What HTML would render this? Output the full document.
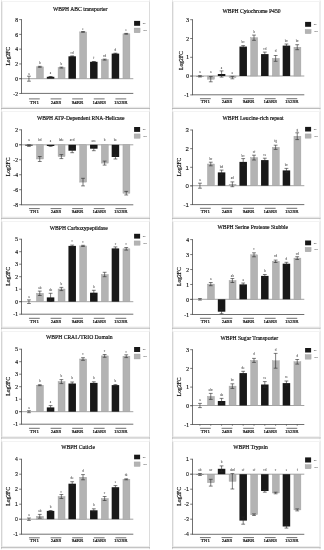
<!DOCTYPE html>
<html lang="en">
<head>
<meta charset="utf-8">
<title>WBPH gene expression Log2FC charts</title>
<style>
html,body{margin:0;padding:0;background:#fff;}
body{width:324px;height:550px;overflow:hidden;}
svg{display:block;filter:blur(0.3px);}
svg text{font-family:"Liberation Serif", serif;}
svg text.m{stroke:#1a1a1a;stroke-width:0.2px;}
svg text.s{font-family:"Liberation Sans", sans-serif;stroke-width:0.1px;}
</style>
</head>
<body>
<svg width="324" height="550" viewBox="0 0 324 550">
<defs>
<pattern id="g" width="4" height="1" patternUnits="userSpaceOnUse">
<rect width="4" height="1" fill="#b8b8b8"/>
<rect y="0.6" width="4" height="0.4" fill="#acacac"/>
</pattern>
</defs>
<rect width="324" height="550" fill="#fff"/>
<g>
<rect x="1.5" y="1.5" width="148" height="106.8" fill="#fff" stroke="none"/>
<path d="M1.5 109.8V0.5" stroke="#d4d4d4" stroke-width="1" fill="none"/>
<path d="M2.5 108.3V1.5" stroke="#f0f0f0" stroke-width="1" fill="none"/>
<path d="M149.5 109.8V0.5" stroke="#dcdcdc" stroke-width="1" fill="none"/>
<path d="M1.5 1.5H149.5" stroke="#f3f3f3" stroke-width="1" fill="none"/>
<path d="M1 108.3H150" stroke="#adadad" stroke-width="1" fill="none"/>
<path d="M1.5 107.3H149.5" stroke="#e8e8e8" stroke-width="1" fill="none"/>
<text class="m" x="53" y="11.1" font-size="5.6" fill="#111">WBPH ABC transporter</text>
<text class="m" transform="translate(9.6 56.25) rotate(-90)" font-size="5.6" text-anchor="middle" fill="#111">Log2FC</text>
<path d="M19.1 78.7H133.3" stroke="#8c8c8c" stroke-width="0.8" fill="none"/>
<path d="M28.95 76.2V81.2M27.05 76.2h3.8M27.05 81.2h3.8" stroke="#262626" stroke-width="0.6" fill="none"/>
<text x="28.95" y="74.5" font-size="3.4" text-anchor="middle" fill="#222">a</text>
<rect x="36.46" y="66.8" width="6.95" height="11.9" fill="url(#g)" stroke="#9c9c9c" stroke-width="0.4"/>
<path d="M39.76 66.3V67.3M37.86 66.3h3.8M37.86 67.3h3.8" stroke="#262626" stroke-width="0.6" fill="none"/>
<text x="39.76" y="64" font-size="3.4" text-anchor="middle" fill="#222">b</text>
<rect x="46.82" y="76.8" width="7.5" height="1.9" fill="#181818"/>
<path d="M50.57 76.5V77.1M48.67 76.5h3.8M48.67 77.1h3.8" stroke="#262626" stroke-width="0.6" fill="none"/>
<text x="50.57" y="74.3" font-size="3.4" text-anchor="middle" fill="#222">a</text>
<rect x="58.08" y="67.6" width="6.95" height="11.1" fill="url(#g)" stroke="#9c9c9c" stroke-width="0.4"/>
<path d="M61.38 67.1V68.1M59.48 67.1h3.8M59.48 68.1h3.8" stroke="#262626" stroke-width="0.6" fill="none"/>
<text x="61.38" y="64.8" font-size="3.4" text-anchor="middle" fill="#222">b</text>
<rect x="68.44" y="56.3" width="7.5" height="22.4" fill="#181818"/>
<path d="M72.19 55.9V56.7M70.29 55.9h3.8M70.29 56.7h3.8" stroke="#262626" stroke-width="0.6" fill="none"/>
<text x="72.19" y="53.8" font-size="3.4" text-anchor="middle" fill="#222">cd</text>
<rect x="79.7" y="31.9" width="6.95" height="46.8" fill="url(#g)" stroke="#9c9c9c" stroke-width="0.4"/>
<path d="M83 31.5V32.3M81.1 31.5h3.8M81.1 32.3h3.8" stroke="#262626" stroke-width="0.6" fill="none"/>
<text x="83" y="29.6" font-size="3.4" text-anchor="middle" fill="#222">e</text>
<rect x="90.06" y="61.8" width="7.5" height="16.9" fill="#181818"/>
<path d="M93.81 61.5V62.1M91.91 61.5h3.8M91.91 62.1h3.8" stroke="#262626" stroke-width="0.6" fill="none"/>
<text x="93.81" y="58.8" font-size="3.4" text-anchor="middle" fill="#222">f</text>
<rect x="101.32" y="59.6" width="6.95" height="19.1" fill="url(#g)" stroke="#9c9c9c" stroke-width="0.4"/>
<path d="M104.62 59.1V60.1M102.72 59.1h3.8M102.72 60.1h3.8" stroke="#262626" stroke-width="0.6" fill="none"/>
<text x="104.62" y="56.9" font-size="3.4" text-anchor="middle" fill="#222">cd</text>
<rect x="111.68" y="53.6" width="7.5" height="25.1" fill="#181818"/>
<path d="M115.43 53.2V54M113.53 53.2h3.8M113.53 54h3.8" stroke="#262626" stroke-width="0.6" fill="none"/>
<text x="115.43" y="50.5" font-size="3.4" text-anchor="middle" fill="#222">d</text>
<rect x="122.94" y="33.8" width="6.95" height="44.9" fill="url(#g)" stroke="#9c9c9c" stroke-width="0.4"/>
<path d="M126.24 33.4V34.2M124.34 33.4h3.8M124.34 34.2h3.8" stroke="#262626" stroke-width="0.6" fill="none"/>
<text x="126.24" y="31.2" font-size="3.4" text-anchor="middle" fill="#222">e</text>
<path d="M21.5 19.2V93.8M21.5 93.4H133.3" stroke="#404040" stroke-width="0.75" fill="none"/>
<path d="M19.2 19.6H21.5" stroke="#404040" stroke-width="0.7" fill="none"/>
<text class="m" x="17.9" y="21.78" font-size="5.5" text-anchor="end" fill="#111">8</text>
<path d="M19.2 34.38H21.5" stroke="#404040" stroke-width="0.7" fill="none"/>
<text class="m" x="17.9" y="36.56" font-size="5.5" text-anchor="end" fill="#111">6</text>
<path d="M19.2 49.16H21.5" stroke="#404040" stroke-width="0.7" fill="none"/>
<text class="m" x="17.9" y="51.34" font-size="5.5" text-anchor="end" fill="#111">4</text>
<path d="M19.2 63.94H21.5" stroke="#404040" stroke-width="0.7" fill="none"/>
<text class="m" x="17.9" y="66.12" font-size="5.5" text-anchor="end" fill="#111">2</text>
<path d="M19.2 78.72H21.5" stroke="#404040" stroke-width="0.7" fill="none"/>
<text class="m" x="17.9" y="80.9" font-size="5.5" text-anchor="end" fill="#111">0</text>
<path d="M19.2 93.5H21.5" stroke="#404040" stroke-width="0.7" fill="none"/>
<text class="m" x="17.9" y="95.68" font-size="5.5" text-anchor="end" fill="#111">-2</text>
<path d="M28.96 98.9h10.8" stroke="#333" stroke-width="0.7" fill="none"/>
<text class="m" x="34.36" y="104" font-size="5" text-anchor="middle" fill="#111">TN1</text>
<path d="M50.58 98.9h10.8" stroke="#333" stroke-width="0.7" fill="none"/>
<text class="m" x="55.98" y="104" font-size="5" text-anchor="middle" fill="#111">24SS</text>
<path d="M72.19 98.9h10.8" stroke="#333" stroke-width="0.7" fill="none"/>
<text class="m" x="77.59" y="104" font-size="5" text-anchor="middle" fill="#111">94RR</text>
<path d="M93.81 98.9h10.8" stroke="#333" stroke-width="0.7" fill="none"/>
<text class="m" x="99.22" y="104" font-size="5" text-anchor="middle" fill="#111">145RS</text>
<path d="M115.44 98.9h10.8" stroke="#333" stroke-width="0.7" fill="none"/>
<text class="m" x="120.84" y="104" font-size="5" text-anchor="middle" fill="#111">152SR</text>
<rect x="134.1" y="20.9" width="6" height="4.9" fill="#181818"/>
<rect x="134.1" y="28" width="6" height="4.8" fill="url(#g)" stroke="#9a9a9a" stroke-width="0.3"/>
<text x="142.7" y="24.25" font-size="2.8" fill="#333">0h</text>
<text x="142.7" y="31.3" font-size="2.8" fill="#333">12h</text>
</g>
<g>
<rect x="172.5" y="1.5" width="147.5" height="106.8" fill="#fff" stroke="none"/>
<path d="M172.5 109.8V0.5" stroke="#d4d4d4" stroke-width="1" fill="none"/>
<path d="M173.5 108.3V1.5" stroke="#f0f0f0" stroke-width="1" fill="none"/>
<path d="M320 109.8V0.5" stroke="#dcdcdc" stroke-width="1" fill="none"/>
<path d="M172.5 1.5H320" stroke="#f3f3f3" stroke-width="1" fill="none"/>
<path d="M172 108.3H320.5" stroke="#adadad" stroke-width="1" fill="none"/>
<path d="M172.5 107.3H320" stroke="#e8e8e8" stroke-width="1" fill="none"/>
<text class="m" x="222.4" y="13.3" font-size="5.6" fill="#111">WBPH Cytochrome P450</text>
<text class="m" transform="translate(182.7 60.6) rotate(-90)" font-size="5.6" text-anchor="middle" fill="#111">Log2FC</text>
<path d="M190.1 76H304.3" stroke="#8c8c8c" stroke-width="0.8" fill="none"/>
<rect x="196.2" y="76" width="7.5" height="0.3" fill="#181818"/>
<path d="M199.95 75.6V77M198.05 75.6h3.8M198.05 77h3.8" stroke="#262626" stroke-width="0.6" fill="none"/>
<text x="199.95" y="72.9" font-size="3.4" text-anchor="middle" fill="#222">a</text>
<rect x="207.46" y="76" width="6.95" height="3.2" fill="url(#g)" stroke="#9c9c9c" stroke-width="0.4"/>
<path d="M210.76 76.6V81.8M208.86 76.6h3.8M208.86 81.8h3.8" stroke="#262626" stroke-width="0.6" fill="none"/>
<text x="210.76" y="73.3" font-size="3.4" text-anchor="middle" fill="#222">a</text>
<rect x="217.82" y="74" width="7.5" height="2" fill="#181818"/>
<path d="M221.57 70.9V77.1M219.67 70.9h3.8M219.67 77.1h3.8" stroke="#262626" stroke-width="0.6" fill="none"/>
<text x="221.57" y="69.3" font-size="3.4" text-anchor="middle" fill="#222">a</text>
<rect x="229.08" y="76" width="6.95" height="1.6" fill="url(#g)" stroke="#9c9c9c" stroke-width="0.4"/>
<path d="M232.38 76.4V78.8M230.48 76.4h3.8M230.48 78.8h3.8" stroke="#262626" stroke-width="0.6" fill="none"/>
<text x="232.38" y="73.7" font-size="3.4" text-anchor="middle" fill="#222">a</text>
<rect x="239.44" y="46.6" width="7.5" height="29.4" fill="#181818"/>
<path d="M243.19 45.6V47.6M241.29 45.6h3.8M241.29 47.6h3.8" stroke="#262626" stroke-width="0.6" fill="none"/>
<text x="243.19" y="42.6" font-size="3.4" text-anchor="middle" fill="#222">bc</text>
<rect x="250.7" y="37.7" width="6.95" height="38.3" fill="url(#g)" stroke="#9c9c9c" stroke-width="0.4"/>
<path d="M254 35.1V40.3M252.1 35.1h3.8M252.1 40.3h3.8" stroke="#262626" stroke-width="0.6" fill="none"/>
<text x="254" y="32.8" font-size="3.4" text-anchor="middle" fill="#222">b</text>
<rect x="261.06" y="54.1" width="7.5" height="21.9" fill="#181818"/>
<path d="M264.81 52.1V56.1M262.91 52.1h3.8M262.91 56.1h3.8" stroke="#262626" stroke-width="0.6" fill="none"/>
<text x="264.81" y="50.2" font-size="3.4" text-anchor="middle" fill="#222">cd</text>
<rect x="272.32" y="58.4" width="6.95" height="17.6" fill="url(#g)" stroke="#9c9c9c" stroke-width="0.4"/>
<path d="M275.62 55.5V61.3M273.72 55.5h3.8M273.72 61.3h3.8" stroke="#262626" stroke-width="0.6" fill="none"/>
<text x="275.62" y="52.1" font-size="3.4" text-anchor="middle" fill="#222">d</text>
<rect x="282.68" y="45.6" width="7.5" height="30.4" fill="#181818"/>
<path d="M286.43 44V47.2M284.53 44h3.8M284.53 47.2h3.8" stroke="#262626" stroke-width="0.6" fill="none"/>
<text x="286.43" y="41.7" font-size="3.4" text-anchor="middle" fill="#222">bc</text>
<rect x="293.94" y="47.2" width="6.95" height="28.8" fill="url(#g)" stroke="#9c9c9c" stroke-width="0.4"/>
<path d="M297.24 44.7V49.7M295.34 44.7h3.8M295.34 49.7h3.8" stroke="#262626" stroke-width="0.6" fill="none"/>
<text x="297.24" y="42" font-size="3.4" text-anchor="middle" fill="#222">bc</text>
<path d="M192.5 19.3V95.2M192.5 94.8H304.3" stroke="#404040" stroke-width="0.75" fill="none"/>
<path d="M190.2 19.7H192.5" stroke="#404040" stroke-width="0.7" fill="none"/>
<text class="m" x="188.9" y="21.88" font-size="5.5" text-anchor="end" fill="#111">3</text>
<path d="M190.2 38.5H192.5" stroke="#404040" stroke-width="0.7" fill="none"/>
<text class="m" x="188.9" y="40.68" font-size="5.5" text-anchor="end" fill="#111">2</text>
<path d="M190.2 57.3H192.5" stroke="#404040" stroke-width="0.7" fill="none"/>
<text class="m" x="188.9" y="59.48" font-size="5.5" text-anchor="end" fill="#111">1</text>
<path d="M190.2 76.1H192.5" stroke="#404040" stroke-width="0.7" fill="none"/>
<text class="m" x="188.9" y="78.28" font-size="5.5" text-anchor="end" fill="#111">0</text>
<path d="M190.2 94.9H192.5" stroke="#404040" stroke-width="0.7" fill="none"/>
<text class="m" x="188.9" y="97.08" font-size="5.5" text-anchor="end" fill="#111">-1</text>
<path d="M199.95 98.7h10.8" stroke="#333" stroke-width="0.7" fill="none"/>
<text class="m" x="205.35" y="103.3" font-size="5" text-anchor="middle" fill="#111">TN1</text>
<path d="M221.57 98.7h10.8" stroke="#333" stroke-width="0.7" fill="none"/>
<text class="m" x="226.97" y="103.3" font-size="5" text-anchor="middle" fill="#111">24SS</text>
<path d="M243.19 98.7h10.8" stroke="#333" stroke-width="0.7" fill="none"/>
<text class="m" x="248.59" y="103.3" font-size="5" text-anchor="middle" fill="#111">94RR</text>
<path d="M264.82 98.7h10.8" stroke="#333" stroke-width="0.7" fill="none"/>
<text class="m" x="270.22" y="103.3" font-size="5" text-anchor="middle" fill="#111">145RS</text>
<path d="M286.44 98.7h10.8" stroke="#333" stroke-width="0.7" fill="none"/>
<text class="m" x="291.84" y="103.3" font-size="5" text-anchor="middle" fill="#111">152SR</text>
<rect x="305.1" y="21.9" width="6" height="4.9" fill="#181818"/>
<rect x="305.1" y="29.4" width="6" height="4.3" fill="url(#g)" stroke="#9a9a9a" stroke-width="0.3"/>
<text x="313.7" y="25.25" font-size="2.8" fill="#333">0h</text>
<text x="313.7" y="32.45" font-size="2.8" fill="#333">12h</text>
</g>
<g>
<rect x="1.5" y="111.5" width="148" height="106.7" fill="#fff" stroke="none"/>
<path d="M1.5 219.7V110.5" stroke="#d4d4d4" stroke-width="1" fill="none"/>
<path d="M2.5 218.2V111.5" stroke="#f0f0f0" stroke-width="1" fill="none"/>
<path d="M149.5 219.7V110.5" stroke="#dcdcdc" stroke-width="1" fill="none"/>
<path d="M1.5 111.5H149.5" stroke="#f3f3f3" stroke-width="1" fill="none"/>
<path d="M1 218.2H150" stroke="#adadad" stroke-width="1" fill="none"/>
<path d="M1.5 217.2H149.5" stroke="#e8e8e8" stroke-width="1" fill="none"/>
<text class="m" x="36.9" y="120" font-size="5.6" fill="#111">WBPH ATP-Dependent RNA-Helicase</text>
<text class="m" transform="translate(9.6 166.95) rotate(-90)" font-size="5.6" text-anchor="middle" fill="#111">Log2FC</text>
<path d="M19.1 144.8H133.3" stroke="#8c8c8c" stroke-width="0.8" fill="none"/>
<rect x="25.2" y="144.8" width="7.5" height="0.8" fill="#181818"/>
<path d="M28.95 144.8V146.4M27.05 144.8h3.8M27.05 146.4h3.8" stroke="#262626" stroke-width="0.6" fill="none"/>
<text x="28.95" y="141.4" font-size="3.4" text-anchor="middle" fill="#222">a</text>
<rect x="36.46" y="144.8" width="6.95" height="14.2" fill="url(#g)" stroke="#9c9c9c" stroke-width="0.4"/>
<path d="M39.76 156.5V161.5M37.86 156.5h3.8M37.86 161.5h3.8" stroke="#262626" stroke-width="0.6" fill="none"/>
<text x="39.76" y="141.4" font-size="3.4" text-anchor="middle" fill="#222">bd</text>
<rect x="46.82" y="144.8" width="7.5" height="1.2" fill="#181818"/>
<path d="M50.57 145.7V146.3M48.67 145.7h3.8M48.67 146.3h3.8" stroke="#262626" stroke-width="0.6" fill="none"/>
<text x="50.57" y="142.2" font-size="3.4" text-anchor="middle" fill="#222">a</text>
<rect x="58.08" y="144.8" width="6.95" height="11.8" fill="url(#g)" stroke="#9c9c9c" stroke-width="0.4"/>
<path d="M61.38 154.6V158.6M59.48 154.6h3.8M59.48 158.6h3.8" stroke="#262626" stroke-width="0.6" fill="none"/>
<text x="61.38" y="141.4" font-size="3.4" text-anchor="middle" fill="#222">bde</text>
<rect x="68.44" y="144.8" width="7.5" height="5.9" fill="#181818"/>
<path d="M72.19 148.7V152.7M70.29 148.7h3.8M70.29 152.7h3.8" stroke="#262626" stroke-width="0.6" fill="none"/>
<text x="72.19" y="141.4" font-size="3.4" text-anchor="middle" fill="#222">acd</text>
<rect x="79.7" y="144.8" width="6.95" height="37.3" fill="url(#g)" stroke="#9c9c9c" stroke-width="0.4"/>
<path d="M83 178.3V185.9M81.1 178.3h3.8M81.1 185.9h3.8" stroke="#262626" stroke-width="0.6" fill="none"/>
<rect x="90.06" y="144.8" width="7.5" height="3.9" fill="#181818"/>
<path d="M93.81 146.7V150.7M91.91 146.7h3.8M91.91 150.7h3.8" stroke="#262626" stroke-width="0.6" fill="none"/>
<text x="93.81" y="141.8" font-size="3.4" text-anchor="middle" fill="#222">ace</text>
<rect x="101.32" y="144.8" width="6.95" height="18.3" fill="url(#g)" stroke="#9c9c9c" stroke-width="0.4"/>
<path d="M104.62 161.1V165.1M102.72 161.1h3.8M102.72 165.1h3.8" stroke="#262626" stroke-width="0.6" fill="none"/>
<text x="104.62" y="141" font-size="3.4" text-anchor="middle" fill="#222">b</text>
<rect x="111.68" y="144.8" width="7.5" height="12.2" fill="#181818"/>
<path d="M115.43 155V159M113.53 155h3.8M113.53 159h3.8" stroke="#262626" stroke-width="0.6" fill="none"/>
<text x="115.43" y="141.4" font-size="3.4" text-anchor="middle" fill="#222">be</text>
<rect x="122.94" y="144.8" width="6.95" height="48.4" fill="url(#g)" stroke="#9c9c9c" stroke-width="0.4"/>
<path d="M126.24 191.4V195M124.34 191.4h3.8M124.34 195h3.8" stroke="#262626" stroke-width="0.6" fill="none"/>
<path d="M21.5 129.4V205.2M21.5 204.8H133.3" stroke="#404040" stroke-width="0.75" fill="none"/>
<path d="M19.2 129.8H21.5" stroke="#404040" stroke-width="0.7" fill="none"/>
<text class="m" x="17.9" y="131.98" font-size="5.5" text-anchor="end" fill="#111">2</text>
<path d="M19.2 144.78H21.5" stroke="#404040" stroke-width="0.7" fill="none"/>
<text class="m" x="17.9" y="146.96" font-size="5.5" text-anchor="end" fill="#111">0</text>
<path d="M19.2 159.76H21.5" stroke="#404040" stroke-width="0.7" fill="none"/>
<text class="m" x="17.9" y="161.94" font-size="5.5" text-anchor="end" fill="#111">-2</text>
<path d="M19.2 174.74H21.5" stroke="#404040" stroke-width="0.7" fill="none"/>
<text class="m" x="17.9" y="176.92" font-size="5.5" text-anchor="end" fill="#111">-4</text>
<path d="M19.2 189.72H21.5" stroke="#404040" stroke-width="0.7" fill="none"/>
<text class="m" x="17.9" y="191.9" font-size="5.5" text-anchor="end" fill="#111">-6</text>
<path d="M19.2 204.7H21.5" stroke="#404040" stroke-width="0.7" fill="none"/>
<text class="m" x="17.9" y="206.88" font-size="5.5" text-anchor="end" fill="#111">-8</text>
<path d="M28.96 208.6h10.8" stroke="#333" stroke-width="0.7" fill="none"/>
<text class="m" x="34.36" y="213.2" font-size="5" text-anchor="middle" fill="#111">TN1</text>
<path d="M50.58 208.6h10.8" stroke="#333" stroke-width="0.7" fill="none"/>
<text class="m" x="55.98" y="213.2" font-size="5" text-anchor="middle" fill="#111">24SS</text>
<path d="M72.19 208.6h10.8" stroke="#333" stroke-width="0.7" fill="none"/>
<text class="m" x="77.59" y="213.2" font-size="5" text-anchor="middle" fill="#111">94RR</text>
<path d="M93.81 208.6h10.8" stroke="#333" stroke-width="0.7" fill="none"/>
<text class="m" x="99.22" y="213.2" font-size="5" text-anchor="middle" fill="#111">145RS</text>
<path d="M115.44 208.6h10.8" stroke="#333" stroke-width="0.7" fill="none"/>
<text class="m" x="120.84" y="213.2" font-size="5" text-anchor="middle" fill="#111">152SR</text>
<rect x="134.1" y="127" width="6" height="4.9" fill="#181818"/>
<rect x="134.1" y="133.9" width="6" height="4.5" fill="url(#g)" stroke="#9a9a9a" stroke-width="0.3"/>
<text x="142.7" y="130.35" font-size="2.8" fill="#333">0h</text>
<text x="142.7" y="137.05" font-size="2.8" fill="#333">12h</text>
</g>
<g>
<rect x="172.5" y="111.5" width="147.5" height="106.7" fill="#fff" stroke="none"/>
<path d="M172.5 219.7V110.5" stroke="#d4d4d4" stroke-width="1" fill="none"/>
<path d="M173.5 218.2V111.5" stroke="#f0f0f0" stroke-width="1" fill="none"/>
<path d="M320 219.7V110.5" stroke="#dcdcdc" stroke-width="1" fill="none"/>
<path d="M172.5 111.5H320" stroke="#f3f3f3" stroke-width="1" fill="none"/>
<path d="M172 218.2H320.5" stroke="#adadad" stroke-width="1" fill="none"/>
<path d="M172.5 217.2H320" stroke="#e8e8e8" stroke-width="1" fill="none"/>
<text class="m" x="222.4" y="119.9" font-size="5.6" fill="#111">WBPH Leucine-rich repeat</text>
<text class="m" transform="translate(180.6 167) rotate(-90)" font-size="5.6" text-anchor="middle" fill="#111">Log2FC</text>
<path d="M190.1 185.7H304.3" stroke="#8c8c8c" stroke-width="0.8" fill="none"/>
<path d="M199.95 183.2V188.2M198.05 183.2h3.8M198.05 188.2h3.8" stroke="#262626" stroke-width="0.6" fill="none"/>
<text x="199.95" y="181.3" font-size="3.4" text-anchor="middle" fill="#222">a</text>
<rect x="207.46" y="164" width="6.95" height="21.7" fill="url(#g)" stroke="#9c9c9c" stroke-width="0.4"/>
<path d="M210.76 162.2V165.8M208.86 162.2h3.8M208.86 165.8h3.8" stroke="#262626" stroke-width="0.6" fill="none"/>
<text x="210.76" y="159.6" font-size="3.4" text-anchor="middle" fill="#222">bc</text>
<rect x="217.82" y="172.4" width="7.5" height="13.3" fill="#181818"/>
<path d="M221.57 170.1V174.7M219.67 170.1h3.8M219.67 174.7h3.8" stroke="#262626" stroke-width="0.6" fill="none"/>
<text x="221.57" y="167.5" font-size="3.4" text-anchor="middle" fill="#222">bd</text>
<rect x="229.08" y="184.3" width="6.95" height="1.4" fill="url(#g)" stroke="#9c9c9c" stroke-width="0.4"/>
<path d="M232.38 181.9V186.7M230.48 181.9h3.8M230.48 186.7h3.8" stroke="#262626" stroke-width="0.6" fill="none"/>
<text x="232.38" y="179.3" font-size="3.4" text-anchor="middle" fill="#222">ad</text>
<rect x="239.44" y="161.9" width="7.5" height="23.8" fill="#181818"/>
<path d="M243.19 158.6V165.2M241.29 158.6h3.8M241.29 165.2h3.8" stroke="#262626" stroke-width="0.6" fill="none"/>
<text x="243.19" y="156.6" font-size="3.4" text-anchor="middle" fill="#222">bc</text>
<rect x="250.7" y="157.6" width="6.95" height="28.1" fill="url(#g)" stroke="#9c9c9c" stroke-width="0.4"/>
<path d="M254 155.2V160M252.1 155.2h3.8M252.1 160h3.8" stroke="#262626" stroke-width="0.6" fill="none"/>
<text x="254" y="152.6" font-size="3.4" text-anchor="middle" fill="#222">cf</text>
<rect x="261.06" y="160.1" width="7.5" height="25.6" fill="#181818"/>
<path d="M264.81 158.2V162M262.91 158.2h3.8M262.91 162h3.8" stroke="#262626" stroke-width="0.6" fill="none"/>
<text x="264.81" y="155.6" font-size="3.4" text-anchor="middle" fill="#222">ce</text>
<rect x="272.32" y="147.3" width="6.95" height="38.4" fill="url(#g)" stroke="#9c9c9c" stroke-width="0.4"/>
<path d="M275.62 145.2V149.4M273.72 145.2h3.8M273.72 149.4h3.8" stroke="#262626" stroke-width="0.6" fill="none"/>
<text x="275.62" y="142.4" font-size="3.4" text-anchor="middle" fill="#222">fg</text>
<rect x="282.68" y="170.4" width="7.5" height="15.3" fill="#181818"/>
<path d="M286.43 168.4V172.4M284.53 168.4h3.8M284.53 172.4h3.8" stroke="#262626" stroke-width="0.6" fill="none"/>
<text x="286.43" y="165.5" font-size="3.4" text-anchor="middle" fill="#222">bc</text>
<rect x="293.94" y="136.2" width="6.95" height="49.5" fill="url(#g)" stroke="#9c9c9c" stroke-width="0.4"/>
<path d="M297.24 132.8V139.6M295.34 132.8h3.8M295.34 139.6h3.8" stroke="#262626" stroke-width="0.6" fill="none"/>
<text x="297.24" y="130.9" font-size="3.4" text-anchor="middle" fill="#222">g</text>
<path d="M192.5 129.6V205M192.5 204.6H304.3" stroke="#404040" stroke-width="0.75" fill="none"/>
<path d="M190.2 130H192.5" stroke="#404040" stroke-width="0.7" fill="none"/>
<text class="m s" x="188.9" y="132.36" font-size="6.0" text-anchor="end" fill="#111">3</text>
<path d="M190.2 148.65H192.5" stroke="#404040" stroke-width="0.7" fill="none"/>
<text class="m s" x="188.9" y="151.01" font-size="6.0" text-anchor="end" fill="#111">2</text>
<path d="M190.2 167.3H192.5" stroke="#404040" stroke-width="0.7" fill="none"/>
<text class="m s" x="188.9" y="169.66" font-size="6.0" text-anchor="end" fill="#111">1</text>
<path d="M190.2 185.95H192.5" stroke="#404040" stroke-width="0.7" fill="none"/>
<text class="m s" x="188.9" y="188.31" font-size="6.0" text-anchor="end" fill="#111">0</text>
<path d="M190.2 204.6H192.5" stroke="#404040" stroke-width="0.7" fill="none"/>
<text class="m s" x="188.9" y="206.96" font-size="6.0" text-anchor="end" fill="#111">-1</text>
<path d="M199.95 208.3h10.8" stroke="#333" stroke-width="0.7" fill="none"/>
<text class="m" x="205.35" y="212.8" font-size="5" text-anchor="middle" fill="#111">TN1</text>
<path d="M221.57 208.3h10.8" stroke="#333" stroke-width="0.7" fill="none"/>
<text class="m" x="226.97" y="212.8" font-size="5" text-anchor="middle" fill="#111">24SS</text>
<path d="M243.19 208.3h10.8" stroke="#333" stroke-width="0.7" fill="none"/>
<text class="m" x="248.59" y="212.8" font-size="5" text-anchor="middle" fill="#111">94RR</text>
<path d="M264.82 208.3h10.8" stroke="#333" stroke-width="0.7" fill="none"/>
<text class="m" x="270.22" y="212.8" font-size="5" text-anchor="middle" fill="#111">145RS</text>
<path d="M286.44 208.3h10.8" stroke="#333" stroke-width="0.7" fill="none"/>
<text class="m" x="291.84" y="212.8" font-size="5" text-anchor="middle" fill="#111">152SR</text>
<rect x="305.1" y="126.9" width="6" height="4.6" fill="#181818"/>
<rect x="305.1" y="133.9" width="6" height="4.3" fill="url(#g)" stroke="#9a9a9a" stroke-width="0.3"/>
<text x="313.7" y="130.1" font-size="2.8" fill="#333">0h</text>
<text x="313.7" y="136.95" font-size="2.8" fill="#333">12h</text>
</g>
<g>
<rect x="1.5" y="221.5" width="148" height="106.6" fill="#fff" stroke="none"/>
<path d="M1.5 329.6V220.5" stroke="#d4d4d4" stroke-width="1" fill="none"/>
<path d="M2.5 328.1V221.5" stroke="#f0f0f0" stroke-width="1" fill="none"/>
<path d="M149.5 329.6V220.5" stroke="#dcdcdc" stroke-width="1" fill="none"/>
<path d="M1.5 221.5H149.5" stroke="#f3f3f3" stroke-width="1" fill="none"/>
<path d="M1 328.1H150" stroke="#adadad" stroke-width="1" fill="none"/>
<path d="M1.5 327.1H149.5" stroke="#e8e8e8" stroke-width="1" fill="none"/>
<text class="m" x="49.8" y="229.8" font-size="5.6" fill="#111">WBPH Carboxypeptidase</text>
<text class="m" transform="translate(9.6 276.4) rotate(-90)" font-size="5.6" text-anchor="middle" fill="#111">Log2FC</text>
<path d="M19.1 301.7H133.3" stroke="#8c8c8c" stroke-width="0.8" fill="none"/>
<path d="M28.95 299.9V303.5M27.05 299.9h3.8M27.05 303.5h3.8" stroke="#262626" stroke-width="0.6" fill="none"/>
<text x="28.95" y="298" font-size="3.4" text-anchor="middle" fill="#222">a</text>
<rect x="36.46" y="293.3" width="6.95" height="8.4" fill="url(#g)" stroke="#9c9c9c" stroke-width="0.4"/>
<path d="M39.76 291.1V295.5M37.86 291.1h3.8M37.86 295.5h3.8" stroke="#262626" stroke-width="0.6" fill="none"/>
<text x="39.76" y="289.2" font-size="3.4" text-anchor="middle" fill="#222">ab</text>
<rect x="46.82" y="297.4" width="7.5" height="4.3" fill="#181818"/>
<path d="M50.57 293.3V301.5M48.67 293.3h3.8M48.67 301.5h3.8" stroke="#262626" stroke-width="0.6" fill="none"/>
<text x="50.57" y="290.8" font-size="3.4" text-anchor="middle" fill="#222">ab</text>
<rect x="58.08" y="289" width="6.95" height="12.7" fill="url(#g)" stroke="#9c9c9c" stroke-width="0.4"/>
<path d="M61.38 287.4V290.6M59.48 287.4h3.8M59.48 290.6h3.8" stroke="#262626" stroke-width="0.6" fill="none"/>
<text x="61.38" y="285" font-size="3.4" text-anchor="middle" fill="#222">b</text>
<rect x="68.44" y="245.9" width="7.5" height="55.8" fill="#181818"/>
<path d="M72.19 245.1V246.7M70.29 245.1h3.8M70.29 246.7h3.8" stroke="#262626" stroke-width="0.6" fill="none"/>
<text x="72.19" y="241.5" font-size="3.4" text-anchor="middle" fill="#222">c</text>
<rect x="79.7" y="245.9" width="6.95" height="55.8" fill="url(#g)" stroke="#9c9c9c" stroke-width="0.4"/>
<path d="M83 245.3V246.5M81.1 245.3h3.8M81.1 246.5h3.8" stroke="#262626" stroke-width="0.6" fill="none"/>
<text x="83" y="242.9" font-size="3.4" text-anchor="middle" fill="#222">c</text>
<rect x="90.06" y="292.7" width="7.5" height="9" fill="#181818"/>
<path d="M93.81 290.3V295.1M91.91 290.3h3.8M91.91 295.1h3.8" stroke="#262626" stroke-width="0.6" fill="none"/>
<text x="93.81" y="288.4" font-size="3.4" text-anchor="middle" fill="#222">b</text>
<rect x="101.32" y="274.5" width="6.95" height="27.2" fill="url(#g)" stroke="#9c9c9c" stroke-width="0.4"/>
<path d="M104.62 272.3V276.7M102.72 272.3h3.8M102.72 276.7h3.8" stroke="#262626" stroke-width="0.6" fill="none"/>
<rect x="111.68" y="248.4" width="7.5" height="53.3" fill="#181818"/>
<path d="M115.43 246.9V249.9M113.53 246.9h3.8M113.53 249.9h3.8" stroke="#262626" stroke-width="0.6" fill="none"/>
<text x="115.43" y="244.5" font-size="3.4" text-anchor="middle" fill="#222">c</text>
<rect x="122.94" y="248.8" width="6.95" height="52.9" fill="url(#g)" stroke="#9c9c9c" stroke-width="0.4"/>
<path d="M126.24 247.5V250.1M124.34 247.5h3.8M124.34 250.1h3.8" stroke="#262626" stroke-width="0.6" fill="none"/>
<text x="126.24" y="244.9" font-size="3.4" text-anchor="middle" fill="#222">c</text>
<path d="M21.5 238.8V314.6M21.5 314.2H133.3" stroke="#404040" stroke-width="0.75" fill="none"/>
<path d="M19.2 239.2H21.5" stroke="#404040" stroke-width="0.7" fill="none"/>
<text class="m" x="17.9" y="241.38" font-size="5.5" text-anchor="end" fill="#111">5</text>
<path d="M19.2 251.7H21.5" stroke="#404040" stroke-width="0.7" fill="none"/>
<text class="m" x="17.9" y="253.88" font-size="5.5" text-anchor="end" fill="#111">4</text>
<path d="M19.2 264.2H21.5" stroke="#404040" stroke-width="0.7" fill="none"/>
<text class="m" x="17.9" y="266.38" font-size="5.5" text-anchor="end" fill="#111">3</text>
<path d="M19.2 276.7H21.5" stroke="#404040" stroke-width="0.7" fill="none"/>
<text class="m" x="17.9" y="278.88" font-size="5.5" text-anchor="end" fill="#111">2</text>
<path d="M19.2 289.2H21.5" stroke="#404040" stroke-width="0.7" fill="none"/>
<text class="m" x="17.9" y="291.38" font-size="5.5" text-anchor="end" fill="#111">1</text>
<path d="M19.2 301.7H21.5" stroke="#404040" stroke-width="0.7" fill="none"/>
<text class="m" x="17.9" y="303.88" font-size="5.5" text-anchor="end" fill="#111">0</text>
<path d="M19.2 314.2H21.5" stroke="#404040" stroke-width="0.7" fill="none"/>
<text class="m" x="17.9" y="316.38" font-size="5.5" text-anchor="end" fill="#111">-1</text>
<path d="M28.96 318.3h10.8" stroke="#333" stroke-width="0.7" fill="none"/>
<text class="m" x="34.36" y="323.2" font-size="5" text-anchor="middle" fill="#111">TN1</text>
<path d="M50.58 318.3h10.8" stroke="#333" stroke-width="0.7" fill="none"/>
<text class="m" x="55.98" y="323.2" font-size="5" text-anchor="middle" fill="#111">24SS</text>
<path d="M72.19 318.3h10.8" stroke="#333" stroke-width="0.7" fill="none"/>
<text class="m" x="77.59" y="323.2" font-size="5" text-anchor="middle" fill="#111">94RR</text>
<path d="M93.81 318.3h10.8" stroke="#333" stroke-width="0.7" fill="none"/>
<text class="m" x="99.22" y="323.2" font-size="5" text-anchor="middle" fill="#111">145RS</text>
<path d="M115.44 318.3h10.8" stroke="#333" stroke-width="0.7" fill="none"/>
<text class="m" x="120.84" y="323.2" font-size="5" text-anchor="middle" fill="#111">152SR</text>
<rect x="134.1" y="233.8" width="6" height="4.8" fill="#181818"/>
<rect x="134.1" y="240.9" width="6" height="4.4" fill="url(#g)" stroke="#9a9a9a" stroke-width="0.3"/>
<text x="142.7" y="237.1" font-size="2.8" fill="#333">0h</text>
<text x="142.7" y="244" font-size="2.8" fill="#333">12h</text>
</g>
<g>
<rect x="172.5" y="221.5" width="147.5" height="106.6" fill="#fff" stroke="none"/>
<path d="M172.5 329.6V220.5" stroke="#d4d4d4" stroke-width="1" fill="none"/>
<path d="M173.5 328.1V221.5" stroke="#f0f0f0" stroke-width="1" fill="none"/>
<path d="M320 329.6V220.5" stroke="#dcdcdc" stroke-width="1" fill="none"/>
<path d="M172.5 221.5H320" stroke="#f3f3f3" stroke-width="1" fill="none"/>
<path d="M172 328.1H320.5" stroke="#adadad" stroke-width="1" fill="none"/>
<path d="M172.5 327.1H320" stroke="#e8e8e8" stroke-width="1" fill="none"/>
<text class="m" x="217.4" y="229.4" font-size="5.6" fill="#111">WBPH Serine Protease Stubble</text>
<text class="m" transform="translate(180.6 276.7) rotate(-90)" font-size="5.6" text-anchor="middle" fill="#111">Log2FC</text>
<path d="M190.1 299.3H304.3" stroke="#8c8c8c" stroke-width="0.8" fill="none"/>
<path d="M199.95 298.5V300.1M198.05 298.5h3.8M198.05 300.1h3.8" stroke="#262626" stroke-width="0.6" fill="none"/>
<rect x="207.46" y="284.1" width="6.95" height="15.2" fill="url(#g)" stroke="#9c9c9c" stroke-width="0.4"/>
<path d="M210.76 282.5V285.7M208.86 282.5h3.8M208.86 285.7h3.8" stroke="#262626" stroke-width="0.6" fill="none"/>
<text x="210.76" y="279.8" font-size="3.4" text-anchor="middle" fill="#222">a</text>
<rect x="217.82" y="299.3" width="7.5" height="12.4" fill="#181818"/>
<path d="M221.57 309.7V313.7M219.67 309.7h3.8M219.67 313.7h3.8" stroke="#262626" stroke-width="0.6" fill="none"/>
<rect x="229.08" y="280.5" width="6.95" height="18.8" fill="url(#g)" stroke="#9c9c9c" stroke-width="0.4"/>
<path d="M232.38 278.5V282.5M230.48 278.5h3.8M230.48 282.5h3.8" stroke="#262626" stroke-width="0.6" fill="none"/>
<text x="232.38" y="276.5" font-size="3.4" text-anchor="middle" fill="#222">ab</text>
<rect x="239.44" y="284.4" width="7.5" height="14.9" fill="#181818"/>
<path d="M243.19 283V285.8M241.29 283h3.8M241.29 285.8h3.8" stroke="#262626" stroke-width="0.6" fill="none"/>
<text x="243.19" y="280.5" font-size="3.4" text-anchor="middle" fill="#222">a</text>
<rect x="250.7" y="254.8" width="6.95" height="44.5" fill="url(#g)" stroke="#9c9c9c" stroke-width="0.4"/>
<path d="M254 252.8V256.8M252.1 252.8h3.8M252.1 256.8h3.8" stroke="#262626" stroke-width="0.6" fill="none"/>
<text x="254" y="250.3" font-size="3.4" text-anchor="middle" fill="#222">c</text>
<rect x="261.06" y="275.9" width="7.5" height="23.4" fill="#181818"/>
<path d="M264.81 274.5V277.3M262.91 274.5h3.8M262.91 277.3h3.8" stroke="#262626" stroke-width="0.6" fill="none"/>
<text x="264.81" y="272.2" font-size="3.4" text-anchor="middle" fill="#222">b</text>
<rect x="272.32" y="261.3" width="6.95" height="38" fill="url(#g)" stroke="#9c9c9c" stroke-width="0.4"/>
<path d="M275.62 260.1V262.5M273.72 260.1h3.8M273.72 262.5h3.8" stroke="#262626" stroke-width="0.6" fill="none"/>
<text x="275.62" y="257.3" font-size="3.4" text-anchor="middle" fill="#222">cd</text>
<rect x="282.68" y="263.7" width="7.5" height="35.6" fill="#181818"/>
<path d="M286.43 262.3V265.1M284.53 262.3h3.8M284.53 265.1h3.8" stroke="#262626" stroke-width="0.6" fill="none"/>
<text x="286.43" y="259.7" font-size="3.4" text-anchor="middle" fill="#222">d</text>
<rect x="293.94" y="258.1" width="6.95" height="41.2" fill="url(#g)" stroke="#9c9c9c" stroke-width="0.4"/>
<path d="M297.24 256.7V259.5M295.34 256.7h3.8M295.34 259.5h3.8" stroke="#262626" stroke-width="0.6" fill="none"/>
<text x="297.24" y="254.8" font-size="3.4" text-anchor="middle" fill="#222">cd</text>
<path d="M192.5 239.2V314.9M192.5 314.5H304.3" stroke="#404040" stroke-width="0.75" fill="none"/>
<path d="M190.2 239.6H192.5" stroke="#404040" stroke-width="0.7" fill="none"/>
<text class="m" x="188.9" y="241.78" font-size="5.5" text-anchor="end" fill="#111">4</text>
<path d="M190.2 254.56H192.5" stroke="#404040" stroke-width="0.7" fill="none"/>
<text class="m" x="188.9" y="256.74" font-size="5.5" text-anchor="end" fill="#111">3</text>
<path d="M190.2 269.52H192.5" stroke="#404040" stroke-width="0.7" fill="none"/>
<text class="m" x="188.9" y="271.7" font-size="5.5" text-anchor="end" fill="#111">2</text>
<path d="M190.2 284.48H192.5" stroke="#404040" stroke-width="0.7" fill="none"/>
<text class="m" x="188.9" y="286.66" font-size="5.5" text-anchor="end" fill="#111">1</text>
<path d="M190.2 299.44H192.5" stroke="#404040" stroke-width="0.7" fill="none"/>
<text class="m" x="188.9" y="301.62" font-size="5.5" text-anchor="end" fill="#111">0</text>
<path d="M190.2 314.4H192.5" stroke="#404040" stroke-width="0.7" fill="none"/>
<text class="m" x="188.9" y="316.58" font-size="5.5" text-anchor="end" fill="#111">-1</text>
<path d="M199.95 318.3h10.8" stroke="#333" stroke-width="0.7" fill="none"/>
<text class="m" x="205.35" y="322.8" font-size="5" text-anchor="middle" fill="#111">TN1</text>
<path d="M221.57 318.3h10.8" stroke="#333" stroke-width="0.7" fill="none"/>
<text class="m" x="226.97" y="322.8" font-size="5" text-anchor="middle" fill="#111">24SS</text>
<path d="M243.19 318.3h10.8" stroke="#333" stroke-width="0.7" fill="none"/>
<text class="m" x="248.59" y="322.8" font-size="5" text-anchor="middle" fill="#111">94RR</text>
<path d="M264.82 318.3h10.8" stroke="#333" stroke-width="0.7" fill="none"/>
<text class="m" x="270.22" y="322.8" font-size="5" text-anchor="middle" fill="#111">145RS</text>
<path d="M286.44 318.3h10.8" stroke="#333" stroke-width="0.7" fill="none"/>
<text class="m" x="291.84" y="322.8" font-size="5" text-anchor="middle" fill="#111">152SR</text>
<rect x="305.1" y="240.5" width="6" height="4.8" fill="#181818"/>
<rect x="305.1" y="247.3" width="6" height="4.5" fill="url(#g)" stroke="#9a9a9a" stroke-width="0.3"/>
<text x="313.7" y="243.8" font-size="2.8" fill="#333">0h</text>
<text x="313.7" y="250.45" font-size="2.8" fill="#333">12h</text>
</g>
<g>
<rect x="1.5" y="331.5" width="148" height="106.4" fill="#fff" stroke="none"/>
<path d="M1.5 439.4V330.5" stroke="#d4d4d4" stroke-width="1" fill="none"/>
<path d="M2.5 437.9V331.5" stroke="#f0f0f0" stroke-width="1" fill="none"/>
<path d="M149.5 439.4V330.5" stroke="#dcdcdc" stroke-width="1" fill="none"/>
<path d="M1.5 331.5H149.5" stroke="#f3f3f3" stroke-width="1" fill="none"/>
<path d="M1 437.9H150" stroke="#adadad" stroke-width="1" fill="none"/>
<path d="M1.5 436.9H149.5" stroke="#e8e8e8" stroke-width="1" fill="none"/>
<text class="m" x="46.1" y="339.4" font-size="5.6" fill="#111">WBPH CRAL/TRIO Domain</text>
<text class="m" transform="translate(9.6 386.4) rotate(-90)" font-size="5.6" text-anchor="middle" fill="#111">Log2FC</text>
<path d="M19.1 411.7H133.3" stroke="#8c8c8c" stroke-width="0.8" fill="none"/>
<path d="M28.95 410.7V412.7M27.05 410.7h3.8M27.05 412.7h3.8" stroke="#262626" stroke-width="0.6" fill="none"/>
<text x="28.95" y="408.8" font-size="3.4" text-anchor="middle" fill="#222">a</text>
<rect x="36.46" y="385.2" width="6.95" height="26.5" fill="url(#g)" stroke="#9c9c9c" stroke-width="0.4"/>
<path d="M39.76 384.7V385.7M37.86 384.7h3.8M37.86 385.7h3.8" stroke="#262626" stroke-width="0.6" fill="none"/>
<text x="39.76" y="382.4" font-size="3.4" text-anchor="middle" fill="#222">b</text>
<rect x="46.82" y="407.4" width="7.5" height="4.3" fill="#181818"/>
<path d="M50.57 405.6V409.2M48.67 405.6h3.8M48.67 409.2h3.8" stroke="#262626" stroke-width="0.6" fill="none"/>
<text x="50.57" y="403.4" font-size="3.4" text-anchor="middle" fill="#222">a</text>
<rect x="58.08" y="381.6" width="6.95" height="30.1" fill="url(#g)" stroke="#9c9c9c" stroke-width="0.4"/>
<path d="M61.38 379.6V383.6M59.48 379.6h3.8M59.48 383.6h3.8" stroke="#262626" stroke-width="0.6" fill="none"/>
<text x="61.38" y="377" font-size="3.4" text-anchor="middle" fill="#222">b</text>
<rect x="68.44" y="383.5" width="7.5" height="28.2" fill="#181818"/>
<path d="M72.19 382V385M70.29 382h3.8M70.29 385h3.8" stroke="#262626" stroke-width="0.6" fill="none"/>
<text x="72.19" y="379.2" font-size="3.4" text-anchor="middle" fill="#222">b</text>
<rect x="79.7" y="359" width="6.95" height="52.7" fill="url(#g)" stroke="#9c9c9c" stroke-width="0.4"/>
<path d="M83 357.7V360.3M81.1 357.7h3.8M81.1 360.3h3.8" stroke="#262626" stroke-width="0.6" fill="none"/>
<text x="83" y="355.2" font-size="3.4" text-anchor="middle" fill="#222">c</text>
<rect x="90.06" y="382.9" width="7.5" height="28.8" fill="#181818"/>
<path d="M93.81 381.8V384M91.91 381.8h3.8M91.91 384h3.8" stroke="#262626" stroke-width="0.6" fill="none"/>
<text x="93.81" y="378.6" font-size="3.4" text-anchor="middle" fill="#222">b</text>
<rect x="101.32" y="355.9" width="6.95" height="55.8" fill="url(#g)" stroke="#9c9c9c" stroke-width="0.4"/>
<path d="M104.62 354.5V357.3M102.72 354.5h3.8M102.72 357.3h3.8" stroke="#262626" stroke-width="0.6" fill="none"/>
<text x="104.62" y="352.3" font-size="3.4" text-anchor="middle" fill="#222">c</text>
<rect x="111.68" y="385.1" width="7.5" height="26.6" fill="#181818"/>
<path d="M115.43 384.6V385.6M113.53 384.6h3.8M113.53 385.6h3.8" stroke="#262626" stroke-width="0.6" fill="none"/>
<text x="115.43" y="381.6" font-size="3.4" text-anchor="middle" fill="#222">b</text>
<rect x="122.94" y="356.2" width="6.95" height="55.5" fill="url(#g)" stroke="#9c9c9c" stroke-width="0.4"/>
<path d="M126.24 354.8V357.6M124.34 354.8h3.8M124.34 357.6h3.8" stroke="#262626" stroke-width="0.6" fill="none"/>
<text x="126.24" y="353" font-size="3.4" text-anchor="middle" fill="#222">c</text>
<path d="M21.5 348.8V424.6M21.5 424.2H133.3" stroke="#404040" stroke-width="0.75" fill="none"/>
<path d="M19.2 349.2H21.5" stroke="#404040" stroke-width="0.7" fill="none"/>
<text class="m" x="17.9" y="351.38" font-size="5.5" text-anchor="end" fill="#111">5</text>
<path d="M19.2 361.7H21.5" stroke="#404040" stroke-width="0.7" fill="none"/>
<text class="m" x="17.9" y="363.88" font-size="5.5" text-anchor="end" fill="#111">4</text>
<path d="M19.2 374.2H21.5" stroke="#404040" stroke-width="0.7" fill="none"/>
<text class="m" x="17.9" y="376.38" font-size="5.5" text-anchor="end" fill="#111">3</text>
<path d="M19.2 386.7H21.5" stroke="#404040" stroke-width="0.7" fill="none"/>
<text class="m" x="17.9" y="388.88" font-size="5.5" text-anchor="end" fill="#111">2</text>
<path d="M19.2 399.2H21.5" stroke="#404040" stroke-width="0.7" fill="none"/>
<text class="m" x="17.9" y="401.38" font-size="5.5" text-anchor="end" fill="#111">1</text>
<path d="M19.2 411.7H21.5" stroke="#404040" stroke-width="0.7" fill="none"/>
<text class="m" x="17.9" y="413.88" font-size="5.5" text-anchor="end" fill="#111">0</text>
<path d="M19.2 424.2H21.5" stroke="#404040" stroke-width="0.7" fill="none"/>
<text class="m" x="17.9" y="426.38" font-size="5.5" text-anchor="end" fill="#111">-1</text>
<path d="M28.96 428.3h10.8" stroke="#333" stroke-width="0.7" fill="none"/>
<text class="m" x="34.36" y="432.8" font-size="5" text-anchor="middle" fill="#111">TN1</text>
<path d="M50.58 428.3h10.8" stroke="#333" stroke-width="0.7" fill="none"/>
<text class="m" x="55.98" y="432.8" font-size="5" text-anchor="middle" fill="#111">24SS</text>
<path d="M72.19 428.3h10.8" stroke="#333" stroke-width="0.7" fill="none"/>
<text class="m" x="77.59" y="432.8" font-size="5" text-anchor="middle" fill="#111">94RR</text>
<path d="M93.81 428.3h10.8" stroke="#333" stroke-width="0.7" fill="none"/>
<text class="m" x="99.22" y="432.8" font-size="5" text-anchor="middle" fill="#111">145RS</text>
<path d="M115.44 428.3h10.8" stroke="#333" stroke-width="0.7" fill="none"/>
<text class="m" x="120.84" y="432.8" font-size="5" text-anchor="middle" fill="#111">152SR</text>
<rect x="134.1" y="347" width="6" height="5" fill="#181818"/>
<rect x="134.1" y="354" width="6" height="5" fill="url(#g)" stroke="#9a9a9a" stroke-width="0.3"/>
<text x="142.7" y="350.4" font-size="2.8" fill="#333">0h</text>
<text x="142.7" y="357.4" font-size="2.8" fill="#333">12h</text>
</g>
<g>
<rect x="172.5" y="331.5" width="147.5" height="106.4" fill="#fff" stroke="none"/>
<path d="M172.5 439.4V330.5" stroke="#d4d4d4" stroke-width="1" fill="none"/>
<path d="M173.5 437.9V331.5" stroke="#f0f0f0" stroke-width="1" fill="none"/>
<path d="M320 439.4V330.5" stroke="#dcdcdc" stroke-width="1" fill="none"/>
<path d="M172.5 331.5H320" stroke="#f3f3f3" stroke-width="1" fill="none"/>
<path d="M172 437.9H320.5" stroke="#adadad" stroke-width="1" fill="none"/>
<path d="M172.5 436.9H320" stroke="#e8e8e8" stroke-width="1" fill="none"/>
<text class="m" x="220.4" y="339.8" font-size="5.6" fill="#111">WBPH Sugar Transporter</text>
<text class="m" transform="translate(180.6 386.8) rotate(-90)" font-size="5.6" text-anchor="middle" fill="#111">Log2FC</text>
<path d="M190.1 405.5H304.3" stroke="#8c8c8c" stroke-width="0.8" fill="none"/>
<path d="M199.95 403.4V407.6M198.05 403.4h3.8M198.05 407.6h3.8" stroke="#262626" stroke-width="0.6" fill="none"/>
<text x="199.95" y="401.2" font-size="3.4" text-anchor="middle" fill="#222">a</text>
<rect x="207.46" y="396.4" width="6.95" height="9.1" fill="url(#g)" stroke="#9c9c9c" stroke-width="0.4"/>
<path d="M210.76 393.4V399.4M208.86 393.4h3.8M208.86 399.4h3.8" stroke="#262626" stroke-width="0.6" fill="none"/>
<text x="210.76" y="390.8" font-size="3.4" text-anchor="middle" fill="#222">abc</text>
<rect x="217.82" y="401" width="7.5" height="4.5" fill="#181818"/>
<path d="M221.57 398.4V403.6M219.67 398.4h3.8M219.67 403.6h3.8" stroke="#262626" stroke-width="0.6" fill="none"/>
<text x="221.57" y="396.2" font-size="3.4" text-anchor="middle" fill="#222">ab</text>
<rect x="229.08" y="386.1" width="6.95" height="19.4" fill="url(#g)" stroke="#9c9c9c" stroke-width="0.4"/>
<path d="M232.38 383.8V388.4M230.48 383.8h3.8M230.48 388.4h3.8" stroke="#262626" stroke-width="0.6" fill="none"/>
<text x="232.38" y="380.6" font-size="3.4" text-anchor="middle" fill="#222">bc</text>
<rect x="239.44" y="373.1" width="7.5" height="32.4" fill="#181818"/>
<path d="M243.19 371.3V374.9M241.29 371.3h3.8M241.29 374.9h3.8" stroke="#262626" stroke-width="0.6" fill="none"/>
<text x="243.19" y="368.7" font-size="3.4" text-anchor="middle" fill="#222">de</text>
<rect x="250.7" y="360.4" width="6.95" height="45.1" fill="url(#g)" stroke="#9c9c9c" stroke-width="0.4"/>
<path d="M254 358.4V362.4M252.1 358.4h3.8M252.1 362.4h3.8" stroke="#262626" stroke-width="0.6" fill="none"/>
<text x="254" y="354.9" font-size="3.4" text-anchor="middle" fill="#222">d</text>
<rect x="261.06" y="384.5" width="7.5" height="21" fill="#181818"/>
<path d="M264.81 381.6V387.4M262.91 381.6h3.8M262.91 387.4h3.8" stroke="#262626" stroke-width="0.6" fill="none"/>
<text x="264.81" y="379.2" font-size="3.4" text-anchor="middle" fill="#222">ce</text>
<rect x="272.32" y="360.8" width="6.95" height="44.7" fill="url(#g)" stroke="#9c9c9c" stroke-width="0.4"/>
<path d="M275.62 353.4V368.2M273.72 353.4h3.8M273.72 368.2h3.8" stroke="#262626" stroke-width="0.6" fill="none"/>
<text x="275.62" y="351.3" font-size="3.4" text-anchor="middle" fill="#222">d</text>
<rect x="282.68" y="383.1" width="7.5" height="22.4" fill="#181818"/>
<path d="M286.43 381V385.2M284.53 381h3.8M284.53 385.2h3.8" stroke="#262626" stroke-width="0.6" fill="none"/>
<text x="286.43" y="378" font-size="3.4" text-anchor="middle" fill="#222">ce</text>
<rect x="293.94" y="361.8" width="6.95" height="43.7" fill="url(#g)" stroke="#9c9c9c" stroke-width="0.4"/>
<path d="M297.24 359.5V364.1M295.34 359.5h3.8M295.34 364.1h3.8" stroke="#262626" stroke-width="0.6" fill="none"/>
<text x="297.24" y="356.9" font-size="3.4" text-anchor="middle" fill="#222">d</text>
<path d="M192.5 349.3V424.9M192.5 424.5H304.3" stroke="#404040" stroke-width="0.75" fill="none"/>
<path d="M190.2 349.7H192.5" stroke="#404040" stroke-width="0.7" fill="none"/>
<text class="m" x="188.9" y="351.88" font-size="5.5" text-anchor="end" fill="#111">3</text>
<path d="M190.2 368.4H192.5" stroke="#404040" stroke-width="0.7" fill="none"/>
<text class="m" x="188.9" y="370.58" font-size="5.5" text-anchor="end" fill="#111">2</text>
<path d="M190.2 387.1H192.5" stroke="#404040" stroke-width="0.7" fill="none"/>
<text class="m" x="188.9" y="389.28" font-size="5.5" text-anchor="end" fill="#111">1</text>
<path d="M190.2 405.8H192.5" stroke="#404040" stroke-width="0.7" fill="none"/>
<text class="m" x="188.9" y="407.98" font-size="5.5" text-anchor="end" fill="#111">0</text>
<path d="M190.2 424.5H192.5" stroke="#404040" stroke-width="0.7" fill="none"/>
<text class="m" x="188.9" y="426.68" font-size="5.5" text-anchor="end" fill="#111">-1</text>
<path d="M199.95 424.5v1.3" stroke="#404040" stroke-width="0.6" fill="none"/>
<path d="M210.76 424.5v1.3" stroke="#404040" stroke-width="0.6" fill="none"/>
<path d="M221.57 424.5v1.3" stroke="#404040" stroke-width="0.6" fill="none"/>
<path d="M232.38 424.5v1.3" stroke="#404040" stroke-width="0.6" fill="none"/>
<path d="M243.19 424.5v1.3" stroke="#404040" stroke-width="0.6" fill="none"/>
<path d="M254 424.5v1.3" stroke="#404040" stroke-width="0.6" fill="none"/>
<path d="M264.81 424.5v1.3" stroke="#404040" stroke-width="0.6" fill="none"/>
<path d="M275.62 424.5v1.3" stroke="#404040" stroke-width="0.6" fill="none"/>
<path d="M286.43 424.5v1.3" stroke="#404040" stroke-width="0.6" fill="none"/>
<path d="M297.24 424.5v1.3" stroke="#404040" stroke-width="0.6" fill="none"/>
<path d="M199.95 428.3h10.8" stroke="#333" stroke-width="0.7" fill="none"/>
<text class="m" x="205.35" y="432.8" font-size="5" text-anchor="middle" fill="#111">TN1</text>
<path d="M221.57 428.3h10.8" stroke="#333" stroke-width="0.7" fill="none"/>
<text class="m" x="226.97" y="432.8" font-size="5" text-anchor="middle" fill="#111">24SS</text>
<path d="M243.19 428.3h10.8" stroke="#333" stroke-width="0.7" fill="none"/>
<text class="m" x="248.59" y="432.8" font-size="5" text-anchor="middle" fill="#111">94RR</text>
<path d="M264.82 428.3h10.8" stroke="#333" stroke-width="0.7" fill="none"/>
<text class="m" x="270.22" y="432.8" font-size="5" text-anchor="middle" fill="#111">145RS</text>
<path d="M286.44 428.3h10.8" stroke="#333" stroke-width="0.7" fill="none"/>
<text class="m" x="291.84" y="432.8" font-size="5" text-anchor="middle" fill="#111">152SR</text>
<rect x="305.1" y="348" width="6" height="4.5" fill="#181818"/>
<rect x="305.1" y="354.5" width="6" height="4.7" fill="url(#g)" stroke="#9a9a9a" stroke-width="0.3"/>
<text x="313.7" y="351.15" font-size="2.8" fill="#333">0h</text>
<text x="313.7" y="357.75" font-size="2.8" fill="#333">12h</text>
</g>
<g>
<rect x="1.5" y="441.5" width="148" height="106.2" fill="#fff" stroke="none"/>
<path d="M1.5 549.2V440.5" stroke="#d4d4d4" stroke-width="1" fill="none"/>
<path d="M2.5 547.7V441.5" stroke="#f0f0f0" stroke-width="1" fill="none"/>
<path d="M149.5 549.2V440.5" stroke="#dcdcdc" stroke-width="1" fill="none"/>
<path d="M1.5 441.5H149.5" stroke="#f3f3f3" stroke-width="1" fill="none"/>
<path d="M1 547.7H150" stroke="#adadad" stroke-width="1" fill="none"/>
<path d="M1.5 546.7H149.5" stroke="#e8e8e8" stroke-width="1" fill="none"/>
<text class="m" x="61.2" y="449.1" font-size="5.6" fill="#111">WBPH Cuticle</text>
<text class="m" transform="translate(9.6 496.4) rotate(-90)" font-size="5.6" text-anchor="middle" fill="#111">Log2FC</text>
<path d="M19.1 519.2H133.3" stroke="#8c8c8c" stroke-width="0.8" fill="none"/>
<path d="M28.95 518V520.4M27.05 518h3.8M27.05 520.4h3.8" stroke="#262626" stroke-width="0.6" fill="none"/>
<text x="28.95" y="515.5" font-size="3.4" text-anchor="middle" fill="#222">a</text>
<rect x="36.46" y="516.3" width="6.95" height="2.9" fill="url(#g)" stroke="#9c9c9c" stroke-width="0.4"/>
<path d="M39.76 514.4V518.2M37.86 514.4h3.8M37.86 518.2h3.8" stroke="#262626" stroke-width="0.6" fill="none"/>
<text x="39.76" y="511.7" font-size="3.4" text-anchor="middle" fill="#222">ab</text>
<rect x="46.82" y="510.9" width="7.5" height="8.3" fill="#181818"/>
<path d="M50.57 510.5V511.3M48.67 510.5h3.8M48.67 511.3h3.8" stroke="#262626" stroke-width="0.6" fill="none"/>
<text x="50.57" y="507.5" font-size="3.4" text-anchor="middle" fill="#222">b</text>
<rect x="58.08" y="496.5" width="6.95" height="22.7" fill="url(#g)" stroke="#9c9c9c" stroke-width="0.4"/>
<path d="M61.38 494.5V498.5M59.48 494.5h3.8M59.48 498.5h3.8" stroke="#262626" stroke-width="0.6" fill="none"/>
<text x="61.38" y="492.6" font-size="3.4" text-anchor="middle" fill="#222">c</text>
<rect x="68.44" y="483.7" width="7.5" height="35.5" fill="#181818"/>
<path d="M72.19 481.7V485.7M70.29 481.7h3.8M70.29 485.7h3.8" stroke="#262626" stroke-width="0.6" fill="none"/>
<text x="72.19" y="478.7" font-size="3.4" text-anchor="middle" fill="#222">de</text>
<rect x="79.7" y="477.2" width="6.95" height="42" fill="url(#g)" stroke="#9c9c9c" stroke-width="0.4"/>
<path d="M83 474.6V479.8M81.1 474.6h3.8M81.1 479.8h3.8" stroke="#262626" stroke-width="0.6" fill="none"/>
<text x="83" y="471.8" font-size="3.4" text-anchor="middle" fill="#222">d</text>
<rect x="90.06" y="510.3" width="7.5" height="8.9" fill="#181818"/>
<path d="M93.81 508.8V511.8M91.91 508.8h3.8M91.91 511.8h3.8" stroke="#262626" stroke-width="0.6" fill="none"/>
<text x="93.81" y="506" font-size="3.4" text-anchor="middle" fill="#222">b</text>
<rect x="101.32" y="498.5" width="6.95" height="20.7" fill="url(#g)" stroke="#9c9c9c" stroke-width="0.4"/>
<path d="M104.62 496.5V500.5M102.72 496.5h3.8M102.72 500.5h3.8" stroke="#262626" stroke-width="0.6" fill="none"/>
<text x="104.62" y="493.5" font-size="3.4" text-anchor="middle" fill="#222">c</text>
<rect x="111.68" y="487.2" width="7.5" height="32" fill="#181818"/>
<path d="M115.43 485.6V488.8M113.53 485.6h3.8M113.53 488.8h3.8" stroke="#262626" stroke-width="0.6" fill="none"/>
<text x="115.43" y="482.7" font-size="3.4" text-anchor="middle" fill="#222">e</text>
<rect x="122.94" y="479.3" width="6.95" height="39.9" fill="url(#g)" stroke="#9c9c9c" stroke-width="0.4"/>
<path d="M126.24 478.8V479.8M124.34 478.8h3.8M124.34 479.8h3.8" stroke="#262626" stroke-width="0.6" fill="none"/>
<text x="126.24" y="475.8" font-size="3.4" text-anchor="middle" fill="#222">de</text>
<path d="M21.5 458.8V534.6M21.5 534.2H133.3" stroke="#404040" stroke-width="0.75" fill="none"/>
<path d="M19.2 459.2H21.5" stroke="#404040" stroke-width="0.7" fill="none"/>
<text class="m s" x="17.9" y="461.27" font-size="5.2" text-anchor="end" fill="#111">4</text>
<path d="M19.2 474.2H21.5" stroke="#404040" stroke-width="0.7" fill="none"/>
<text class="m s" x="17.9" y="476.27" font-size="5.2" text-anchor="end" fill="#111">3</text>
<path d="M19.2 489.2H21.5" stroke="#404040" stroke-width="0.7" fill="none"/>
<text class="m s" x="17.9" y="491.27" font-size="5.2" text-anchor="end" fill="#111">2</text>
<path d="M19.2 504.2H21.5" stroke="#404040" stroke-width="0.7" fill="none"/>
<text class="m s" x="17.9" y="506.27" font-size="5.2" text-anchor="end" fill="#111">1</text>
<path d="M19.2 519.2H21.5" stroke="#404040" stroke-width="0.7" fill="none"/>
<text class="m s" x="17.9" y="521.27" font-size="5.2" text-anchor="end" fill="#111">0</text>
<path d="M19.2 534.2H21.5" stroke="#404040" stroke-width="0.7" fill="none"/>
<text class="m s" x="17.9" y="536.27" font-size="5.2" text-anchor="end" fill="#111">-1</text>
<path d="M28.96 537.8h10.8" stroke="#333" stroke-width="0.7" fill="none"/>
<text class="m" x="34.36" y="542.3" font-size="5" text-anchor="middle" fill="#111">TN1</text>
<path d="M50.58 537.8h10.8" stroke="#333" stroke-width="0.7" fill="none"/>
<text class="m" x="55.98" y="542.3" font-size="5" text-anchor="middle" fill="#111">24SS</text>
<path d="M72.19 537.8h10.8" stroke="#333" stroke-width="0.7" fill="none"/>
<text class="m" x="77.59" y="542.3" font-size="5" text-anchor="middle" fill="#111">94RR</text>
<path d="M93.81 537.8h10.8" stroke="#333" stroke-width="0.7" fill="none"/>
<text class="m" x="99.22" y="542.3" font-size="5" text-anchor="middle" fill="#111">145RS</text>
<path d="M115.44 537.8h10.8" stroke="#333" stroke-width="0.7" fill="none"/>
<text class="m" x="120.84" y="542.3" font-size="5" text-anchor="middle" fill="#111">152SR</text>
<rect x="134.1" y="454.7" width="6" height="4.6" fill="#181818"/>
<rect x="134.1" y="461.9" width="6" height="4.6" fill="url(#g)" stroke="#9a9a9a" stroke-width="0.3"/>
<text x="142.7" y="457.9" font-size="2.8" fill="#333">0h</text>
<text x="142.7" y="465.1" font-size="2.8" fill="#333">12h</text>
</g>
<g>
<rect x="172.5" y="441.5" width="147.5" height="106.2" fill="#fff" stroke="none"/>
<path d="M172.5 549.2V440.5" stroke="#d4d4d4" stroke-width="1" fill="none"/>
<path d="M173.5 547.7V441.5" stroke="#f0f0f0" stroke-width="1" fill="none"/>
<path d="M320 549.2V440.5" stroke="#dcdcdc" stroke-width="1" fill="none"/>
<path d="M172.5 441.5H320" stroke="#f3f3f3" stroke-width="1" fill="none"/>
<path d="M172 547.7H320.5" stroke="#adadad" stroke-width="1" fill="none"/>
<path d="M172.5 546.7H320" stroke="#e8e8e8" stroke-width="1" fill="none"/>
<text class="m" x="233.2" y="448.9" font-size="5.6" fill="#111">WBPH Trypsin</text>
<text class="m" transform="translate(180.6 496.4) rotate(-90)" font-size="5.6" text-anchor="middle" fill="#111">Log2FC</text>
<path d="M190.1 474.2H304.3" stroke="#8c8c8c" stroke-width="0.8" fill="none"/>
<rect x="196.2" y="474.2" width="7.5" height="0.3" fill="#181818"/>
<path d="M199.95 473.5V475.5M198.05 473.5h3.8M198.05 475.5h3.8" stroke="#262626" stroke-width="0.6" fill="none"/>
<text x="199.95" y="470.9" font-size="3.4" text-anchor="middle" fill="#222">ab</text>
<rect x="207.46" y="474.2" width="6.95" height="8.5" fill="url(#g)" stroke="#9c9c9c" stroke-width="0.4"/>
<path d="M210.76 479.3V486.1M208.86 479.3h3.8M208.86 486.1h3.8" stroke="#262626" stroke-width="0.6" fill="none"/>
<text x="210.76" y="471.4" font-size="3.4" text-anchor="middle" fill="#222">ac</text>
<rect x="217.82" y="468.8" width="7.5" height="5.4" fill="#181818"/>
<path d="M221.57 465.9V471.7M219.67 465.9h3.8M219.67 471.7h3.8" stroke="#262626" stroke-width="0.6" fill="none"/>
<text x="221.57" y="463.4" font-size="3.4" text-anchor="middle" fill="#222">b</text>
<rect x="229.08" y="474.2" width="6.95" height="7.1" fill="url(#g)" stroke="#9c9c9c" stroke-width="0.4"/>
<path d="M232.38 473.6V489M230.48 473.6h3.8M230.48 489h3.8" stroke="#262626" stroke-width="0.6" fill="none"/>
<text x="232.38" y="470.8" font-size="3.4" text-anchor="middle" fill="#222">abd</text>
<rect x="239.44" y="474.2" width="7.5" height="46.4" fill="#181818"/>
<path d="M243.19 517V524.2M241.29 517h3.8M241.29 524.2h3.8" stroke="#262626" stroke-width="0.6" fill="none"/>
<text x="243.19" y="470.8" font-size="3.4" text-anchor="middle" fill="#222">ef</text>
<rect x="250.7" y="474.2" width="6.95" height="40.5" fill="url(#g)" stroke="#9c9c9c" stroke-width="0.4"/>
<path d="M254 513.9V515.5M252.1 513.9h3.8M252.1 515.5h3.8" stroke="#262626" stroke-width="0.6" fill="none"/>
<text x="254" y="470.8" font-size="3.4" text-anchor="middle" fill="#222">ef</text>
<rect x="261.06" y="474.2" width="7.5" height="16.8" fill="#181818"/>
<path d="M264.81 489.8V492.2M262.91 489.8h3.8M262.91 492.2h3.8" stroke="#262626" stroke-width="0.6" fill="none"/>
<text x="264.81" y="471" font-size="3.4" text-anchor="middle" fill="#222">cd</text>
<rect x="272.32" y="474.2" width="6.95" height="18.8" fill="url(#g)" stroke="#9c9c9c" stroke-width="0.4"/>
<path d="M275.62 492.2V493.8M273.72 492.2h3.8M273.72 493.8h3.8" stroke="#262626" stroke-width="0.6" fill="none"/>
<text x="275.62" y="471" font-size="3.4" text-anchor="middle" fill="#222">c</text>
<rect x="282.68" y="474.2" width="7.5" height="52.3" fill="#181818"/>
<path d="M286.43 524.9V528.1M284.53 524.9h3.8M284.53 528.1h3.8" stroke="#262626" stroke-width="0.6" fill="none"/>
<text x="286.43" y="471" font-size="3.4" text-anchor="middle" fill="#222">e</text>
<rect x="293.94" y="474.2" width="6.95" height="35.7" fill="url(#g)" stroke="#9c9c9c" stroke-width="0.4"/>
<path d="M297.24 508.9V510.9M295.34 508.9h3.8M295.34 510.9h3.8" stroke="#262626" stroke-width="0.6" fill="none"/>
<text x="297.24" y="471" font-size="3.4" text-anchor="middle" fill="#222">f</text>
<path d="M192.5 458.8V534.7M192.5 534.3H304.3" stroke="#404040" stroke-width="0.75" fill="none"/>
<path d="M190.2 459.2H192.5" stroke="#404040" stroke-width="0.7" fill="none"/>
<text class="m s" x="188.9" y="461.27" font-size="5.2" text-anchor="end" fill="#111">1</text>
<path d="M190.2 474.2H192.5" stroke="#404040" stroke-width="0.7" fill="none"/>
<text class="m s" x="188.9" y="476.27" font-size="5.2" text-anchor="end" fill="#111">0</text>
<path d="M190.2 489.2H192.5" stroke="#404040" stroke-width="0.7" fill="none"/>
<text class="m s" x="188.9" y="491.27" font-size="5.2" text-anchor="end" fill="#111">-1</text>
<path d="M190.2 504.2H192.5" stroke="#404040" stroke-width="0.7" fill="none"/>
<text class="m s" x="188.9" y="506.27" font-size="5.2" text-anchor="end" fill="#111">-2</text>
<path d="M190.2 519.2H192.5" stroke="#404040" stroke-width="0.7" fill="none"/>
<text class="m s" x="188.9" y="521.27" font-size="5.2" text-anchor="end" fill="#111">-3</text>
<path d="M190.2 534.2H192.5" stroke="#404040" stroke-width="0.7" fill="none"/>
<text class="m s" x="188.9" y="536.27" font-size="5.2" text-anchor="end" fill="#111">-4</text>
<path d="M199.95 537.6h10.8" stroke="#333" stroke-width="0.7" fill="none"/>
<text class="m" x="205.35" y="542.3" font-size="5" text-anchor="middle" fill="#111">TN1</text>
<path d="M221.57 537.6h10.8" stroke="#333" stroke-width="0.7" fill="none"/>
<text class="m" x="226.97" y="542.3" font-size="5" text-anchor="middle" fill="#111">24SS</text>
<path d="M243.19 537.6h10.8" stroke="#333" stroke-width="0.7" fill="none"/>
<text class="m" x="248.59" y="542.3" font-size="5" text-anchor="middle" fill="#111">94RR</text>
<path d="M264.82 537.6h10.8" stroke="#333" stroke-width="0.7" fill="none"/>
<text class="m" x="270.22" y="542.3" font-size="5" text-anchor="middle" fill="#111">145RS</text>
<path d="M286.44 537.6h10.8" stroke="#333" stroke-width="0.7" fill="none"/>
<text class="m" x="291.84" y="542.3" font-size="5" text-anchor="middle" fill="#111">152SR</text>
<rect x="305.1" y="457.4" width="6" height="5.1" fill="#181818"/>
<rect x="305.1" y="464.5" width="6" height="4.3" fill="url(#g)" stroke="#9a9a9a" stroke-width="0.3"/>
<text x="313.7" y="460.85" font-size="2.8" fill="#333">0h</text>
<text x="313.7" y="467.55" font-size="2.8" fill="#333">12h</text>
</g>
</svg>
</body>
</html>
